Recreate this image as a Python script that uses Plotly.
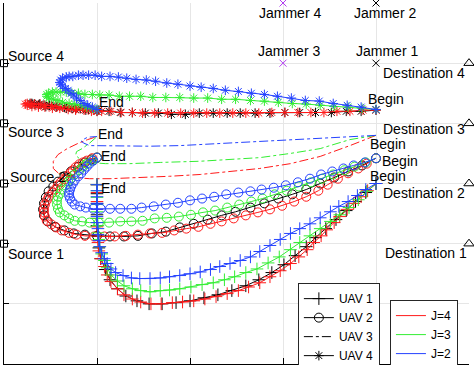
import plotly.graph_objects as go

# ---------------- data (x in [0,5], y in [0,6]) ----------------
source_y = [2, 3, 4, 5]
source_labels = ["Source 1", "Source 2", "Source 3", "Source 4"]
dest_y = [2, 3, 4, 5]
dest_labels = ["Destination 1", "Destination 2", "Destination 3", "Destination 4"]
jam_x = [4, 4, 3, 3]
jam_y = [5, 6, 5, 6]
jam_labels = ["Jammer 1", "Jammer 2", "Jammer 3", "Jammer 4"]

# UAV 4 (asterisk)
u4_blue_x = [4.00,3.84,3.69,3.54,3.39,3.24,3.09,2.94,2.80,2.66,2.52,2.38,2.25,2.12,2.00,1.87,1.75,1.63,1.53,1.42,1.32,1.23,1.14,1.05,0.98,0.91,0.85,0.80,0.74,0.70,0.67,0.63,0.61,0.60,0.61,0.63,0.66,0.69,0.72,0.75,0.78,0.82,0.86,0.90,0.95,1.00]
u4_blue_y = [4.23,4.27,4.30,4.33,4.37,4.38,4.42,4.45,4.48,4.50,4.53,4.55,4.58,4.60,4.62,4.65,4.67,4.70,4.72,4.73,4.75,4.77,4.78,4.78,4.80,4.80,4.80,4.80,4.78,4.78,4.77,4.75,4.72,4.68,4.65,4.62,4.58,4.55,4.50,4.47,4.42,4.38,4.33,4.30,4.27,4.23]
u4_green_x = [4.00,3.85,3.70,3.55,3.40,3.25,3.10,2.95,2.80,2.65,2.49,2.34,2.19,2.04,1.89,1.74,1.60,1.47,1.35,1.24,1.13,1.03,0.95,0.87,0.80,0.73,0.67,0.61,0.56,0.52,0.48,0.46,0.46,0.48,0.53,0.58,0.63,0.70,0.76,0.83,0.89,0.95,1.00]
u4_green_y = [4.23,4.25,4.27,4.28,4.30,4.32,4.33,4.35,4.37,4.38,4.40,4.40,4.42,4.42,4.43,4.43,4.43,4.45,4.45,4.45,4.47,4.47,4.48,4.48,4.50,4.50,4.52,4.52,4.52,4.52,4.50,4.48,4.45,4.42,4.40,4.38,4.35,4.33,4.32,4.30,4.27,4.25,4.23]
u4_red_x = [4.00,3.86,3.72,3.58,3.44,3.30,3.16,3.02,2.88,2.74,2.60,2.46,2.32,2.18,2.04,1.90,1.76,1.62,1.49,1.38,1.26,1.15,1.05,0.96,0.87,0.78,0.71,0.63,0.57,0.51,0.44,0.39,0.33,0.29,0.25,0.23,0.25,0.30,0.37,0.44,0.52,0.60,0.69,0.77,0.86,0.94,1.00]
u4_red_y = [4.22,4.22,4.20,4.20,4.18,4.18,4.18,4.18,4.18,4.17,4.17,4.17,4.17,4.17,4.17,4.17,4.17,4.17,4.17,4.18,4.18,4.20,4.20,4.22,4.23,4.25,4.27,4.27,4.28,4.30,4.30,4.32,4.32,4.33,4.33,4.32,4.30,4.28,4.27,4.27,4.25,4.25,4.23,4.22,4.22,4.20,4.20]
u4_black_x = [4.00,3.84,3.68,3.52,3.35,3.18,3.02,2.86,2.70,2.54,2.40,2.25,2.10,1.95,1.80,1.66,1.52,1.38,1.25,1.13,1.02,0.91,0.82,0.73,0.65,0.57,0.49,0.43,0.38,0.33,0.30,0.28,0.30,0.37,0.45,0.56,0.67,0.77,0.88,1.00]
u4_black_y = [4.22,4.20,4.20,4.18,4.18,4.18,4.18,4.17,4.17,4.17,4.17,4.17,4.17,4.15,4.15,4.17,4.17,4.18,4.18,4.20,4.22,4.23,4.25,4.25,4.27,4.28,4.30,4.30,4.32,4.32,4.33,4.33,4.32,4.30,4.28,4.27,4.25,4.23,4.22,4.20]

# UAV 3 (dash-dot, no markers)
u3_blue_x = [4.00,3.61,3.18,2.75,2.32,1.89,1.57,1.25,1.03,0.92,0.86,0.83,0.85,0.90,1.00]
u3_blue_y = [3.80,3.77,3.73,3.70,3.67,3.63,3.62,3.62,3.62,3.63,3.67,3.70,3.73,3.77,3.78]
u3_green_x = [4.00,3.72,3.40,3.08,2.75,2.43,2.11,1.68,1.35,1.09,0.92,0.82,0.77,0.78,0.84,0.92,1.00]
u3_green_y = [3.80,3.73,3.58,3.50,3.43,3.40,3.37,3.35,3.33,3.33,3.35,3.40,3.47,3.53,3.58,3.67,3.78]
u3_red_x = [4.00,3.72,3.40,3.08,2.75,2.43,2.11,1.78,1.46,1.14,0.92,0.74,0.60,0.53,0.53,0.58,0.68,0.80,0.90,1.00]
u3_red_y = [3.80,3.63,3.45,3.33,3.25,3.20,3.15,3.12,3.10,3.08,3.08,3.10,3.15,3.25,3.37,3.48,3.58,3.67,3.73,3.78]

# UAV 2 (circle)
u2_blue_x = [4.00,3.88,3.76,3.65,3.53,3.41,3.29,3.16,3.03,2.90,2.77,2.65,2.52,2.39,2.26,2.13,2.00,1.87,1.74,1.61,1.48,1.37,1.25,1.14,1.04,0.96,0.88,0.82,0.76,0.73,0.71,0.70,0.70,0.71,0.72,0.74,0.76,0.80,0.83,0.86,0.89,0.92,0.96,1.00]
u2_blue_y = [3.42,3.35,3.30,3.25,3.20,3.15,3.08,3.02,2.97,2.93,2.90,2.87,2.85,2.82,2.78,2.75,2.72,2.68,2.65,2.62,2.60,2.58,2.58,2.58,2.58,2.58,2.60,2.62,2.65,2.70,2.75,2.80,2.85,2.90,2.95,3.00,3.05,3.12,3.17,3.23,3.28,3.33,3.38,3.43]
u2_green_x = [4.00,3.89,3.77,3.66,3.54,3.42,3.30,3.17,3.04,2.91,2.78,2.66,2.53,2.40,2.27,2.14,2.01,1.88,1.75,1.62,1.49,1.37,1.25,1.13,1.02,0.92,0.84,0.76,0.70,0.65,0.60,0.58,0.57,0.57,0.58,0.60,0.62,0.66,0.69,0.72,0.76,0.81,0.85,0.89,0.95,1.00]
u2_green_y = [3.42,3.35,3.28,3.22,3.15,3.08,3.02,2.95,2.88,2.82,2.75,2.70,2.65,2.60,2.55,2.52,2.48,2.45,2.43,2.42,2.38,2.37,2.37,2.35,2.35,2.35,2.37,2.38,2.42,2.47,2.52,2.58,2.65,2.72,2.78,2.83,2.90,2.97,3.03,3.08,3.15,3.22,3.28,3.33,3.38,3.43]
u2_red_x = [4.00,3.90,3.81,3.70,3.59,3.48,3.38,3.25,3.12,2.99,2.86,2.73,2.60,2.47,2.34,2.22,2.09,1.96,1.83,1.70,1.57,1.44,1.31,1.19,1.08,0.97,0.87,0.78,0.70,0.62,0.56,0.51,0.46,0.44,0.43,0.43,0.44,0.46,0.48,0.52,0.55,0.58,0.61,0.65,0.68,0.71,0.74,0.77,0.81,0.85,0.89,0.95,1.00]
u2_red_y = [3.42,3.33,3.25,3.17,3.08,2.98,2.88,2.78,2.70,2.63,2.57,2.52,2.47,2.42,2.37,2.33,2.28,2.25,2.22,2.18,2.17,2.15,2.13,2.12,2.12,2.12,2.13,2.15,2.18,2.22,2.27,2.32,2.38,2.45,2.52,2.58,2.65,2.72,2.78,2.85,2.90,2.97,3.02,3.07,3.12,3.17,3.22,3.27,3.32,3.35,3.38,3.42,3.43]
u2_black_x = [4.00,3.85,3.70,3.55,3.40,3.25,3.10,2.95,2.80,2.65,2.49,2.34,2.19,2.04,1.89,1.74,1.59,1.44,1.29,1.14,1.00,0.87,0.75,0.65,0.55,0.47,0.43,0.42,0.43,0.45,0.48,0.53,0.58,0.65,0.72,0.80,0.87,0.94,1.00]
u2_black_y = [3.42,3.30,3.20,3.10,3.00,2.90,2.82,2.75,2.67,2.60,2.53,2.47,2.40,2.33,2.27,2.20,2.17,2.13,2.12,2.12,2.13,2.15,2.17,2.22,2.28,2.37,2.47,2.57,2.67,2.77,2.87,2.95,3.03,3.12,3.20,3.28,3.35,3.40,3.43]

# UAV 1 (plus)
u1_blue_x = [4.00,3.89,3.80,3.70,3.60,3.51,3.40,3.29,3.18,3.08,2.97,2.86,2.75,2.65,2.54,2.43,2.32,2.22,2.11,2.00,1.89,1.78,1.68,1.57,1.46,1.37,1.28,1.20,1.15,1.11,1.08,1.05,1.03,1.02,1.01,1.01,1.00,1.00,1.00,1.00,1.00,1.00,1.00]
u1_blue_y = [3.00,2.90,2.80,2.70,2.62,2.53,2.43,2.33,2.25,2.17,2.07,1.97,1.87,1.78,1.72,1.67,1.62,1.57,1.53,1.50,1.47,1.45,1.43,1.42,1.42,1.43,1.47,1.52,1.58,1.67,1.75,1.85,1.95,2.05,2.15,2.25,2.35,2.45,2.57,2.67,2.78,2.88,2.98]
u1_green_x = [4.00,3.90,3.81,3.71,3.61,3.51,3.40,3.29,3.18,3.08,2.96,2.84,2.72,2.60,2.48,2.37,2.25,2.13,2.01,1.89,1.78,1.68,1.57,1.47,1.38,1.29,1.22,1.15,1.11,1.08,1.05,1.03,1.02,1.01,1.01,1.00,1.00,1.00,1.00,1.00,1.00]
u1_green_y = [3.00,2.87,2.73,2.60,2.48,2.37,2.25,2.13,2.02,1.90,1.78,1.68,1.58,1.52,1.45,1.40,1.35,1.32,1.28,1.25,1.23,1.22,1.20,1.22,1.25,1.30,1.38,1.48,1.60,1.72,1.83,1.95,2.07,2.18,2.30,2.42,2.53,2.65,2.77,2.88,2.98]
u1_red_x = [4.00,3.91,3.84,3.76,3.69,3.61,3.55,3.47,3.41,3.33,3.26,3.17,3.08,2.97,2.86,2.75,2.63,2.52,2.40,2.28,2.16,2.04,1.92,1.81,1.69,1.58,1.47,1.38,1.29,1.22,1.15,1.11,1.08,1.04,1.02,1.01,1.01,1.00,1.00,1.00,1.00,1.00,1.00]
u1_red_y = [3.00,2.88,2.78,2.67,2.57,2.45,2.35,2.23,2.13,2.02,1.90,1.78,1.67,1.55,1.45,1.35,1.28,1.22,1.17,1.12,1.08,1.05,1.03,1.02,1.00,1.00,1.03,1.08,1.15,1.25,1.37,1.48,1.62,1.75,1.88,2.02,2.15,2.28,2.42,2.57,2.70,2.85,2.98]
u1_black_x = [4.00,3.89,3.78,3.68,3.57,3.46,3.35,3.25,3.13,3.01,2.88,2.74,2.60,2.45,2.30,2.15,2.00,1.85,1.70,1.56,1.43,1.31,1.22,1.14,1.09,1.04,1.02,1.01,1.00,1.00,1.00,1.00,1.00]
u1_black_y = [3.00,2.85,2.70,2.55,2.40,2.25,2.10,1.95,1.80,1.65,1.52,1.40,1.30,1.22,1.15,1.10,1.05,1.02,1.00,1.00,1.05,1.13,1.25,1.40,1.57,1.75,1.93,2.12,2.30,2.48,2.67,2.83,2.98]

begin_x = [3.90, 3.92, 4.05, 3.92]
begin_y = [4.40, 3.66, 3.38, 3.12]
end_x = [1.01, 1.00, 1.03, 1.03]
end_y = [4.35, 3.82, 3.45, 2.92]

RED = "#ff1a1a"
GREEN = "#33ee33"
BLUE = "#2442ff"
BLACK = "#000000"
MAG = "#b13ef0"
FONT = "Liberation Sans, Arial, sans-serif"

fig = go.Figure()

def traj(x, y, color, symbol=None, size=8, dash="solid", name=None, legend=False, rank=1000):
    mode = "lines+markers" if symbol else "lines"
    kw = dict(x=x, y=y, mode=mode, line=dict(color=color, width=1, dash=dash),
              showlegend=legend, name=name or "", legendrank=rank, hoverinfo="skip")
    if symbol:
        kw["marker"] = dict(symbol=symbol, size=size, color=color,
                            line=dict(color=color, width=1))
    fig.add_trace(go.Scatter(**kw))

# black reference trajectories (carry UAV legend entries)
traj(u4_black_x, u4_black_y, BLACK, "asterisk-open", 8, name="UAV 4", legend=True, rank=4)
traj(u2_black_x, u2_black_y, BLACK, "circle-open", 9, name="UAV 2", legend=True, rank=2)
traj(u1_black_x, u1_black_y, BLACK, "cross-thin-open", 9, name="UAV 1", legend=True, rank=1)
fig.add_trace(go.Scatter(x=[None], y=[None], mode="lines", name="UAV 3",
                         line=dict(color=BLACK, width=1, dash="dashdot"),
                         legendrank=3, showlegend=True))

series = {
    RED: (u4_red_x, u4_red_y, u3_red_x, u3_red_y, u2_red_x, u2_red_y, u1_red_x, u1_red_y),
    GREEN: (u4_green_x, u4_green_y, u3_green_x, u3_green_y, u2_green_x, u2_green_y, u1_green_x, u1_green_y),
    BLUE: (u4_blue_x, u4_blue_y, u3_blue_x, u3_blue_y, u2_blue_x, u2_blue_y, u1_blue_x, u1_blue_y),
}
for color, d in series.items():
    traj(d[0], d[1], color, "asterisk-open", 8)
    traj(d[2], d[3], color, None, dash="dashdot")
    traj(d[4], d[5], color, "circle-open", 9)
    traj(d[6], d[7], color, "cross-thin-open", 9)

# J legend entries
for nm, c, r in (("J=4", RED, 1), ("J=3", GREEN, 2), ("J=2", BLUE, 3)):
    fig.add_trace(go.Scatter(x=[None], y=[None], mode="lines", name=nm,
                             line=dict(color=c, width=1), legend="legend2",
                             legendrank=r, showlegend=True))

# sources, destinations, jammers
fig.add_trace(go.Scatter(x=[0]*4, y=source_y, mode="markers", cliponaxis=False, showlegend=False,
                         marker=dict(symbol="square-open", size=7, color=BLACK, line=dict(width=1, color=BLACK))))
fig.add_trace(go.Scatter(x=[5]*4, y=dest_y, mode="markers", cliponaxis=False, showlegend=False,
                         marker=dict(symbol="triangle-up-open", size=9, color=BLACK, line=dict(width=1, color=BLACK))))
fig.add_trace(go.Scatter(x=jam_x, y=jam_y, mode="markers", cliponaxis=False, showlegend=False,
                         marker=dict(symbol="x-thin-open", size=7,
                                     color=[BLACK, BLACK, MAG, MAG],
                                     line=dict(width=1, color=[BLACK, BLACK, MAG, MAG]))))

ann = []
src_pos = [(0.03, 1.83), (0.05, 3.10), (0.03, 3.85), (0.03, 5.12)]
for (x, y), t in zip(src_pos, source_labels):
    ann.append(dict(x=x, y=y, text=t, xanchor="left", yanchor="middle"))
dst_pos = [(4.99, 1.85), (4.97, 2.85), (4.97, 3.90), (4.97, 4.83)]
for (x, y), t in zip(dst_pos, dest_labels):
    ann.append(dict(x=x, y=y, text=t, xanchor="right", yanchor="middle"))
jam_pos = [(4.12, 5.20), (4.10, 5.83), (3.06, 5.20), (3.08, 5.83)]
for (x, y), t in zip(jam_pos, jam_labels):
    ann.append(dict(x=x, y=y, text=t, xanchor="center", yanchor="middle"))
for x, y in zip(begin_x, begin_y):
    ann.append(dict(x=x, y=y, text="Begin", xanchor="left", yanchor="middle"))
for x, y in zip(end_x, end_y):
    ann.append(dict(x=x, y=y, text="End", xanchor="left", yanchor="middle"))
for a in ann:
    a.update(xref="x", yref="y", showarrow=False, borderpad=0,
             font=dict(family=FONT, size=14, color="black"))

fig.update_layout(
    width=474, height=365,
    margin=dict(l=4, r=5, t=3, b=1, autoexpand=False),
    paper_bgcolor="white", plot_bgcolor="white",
    annotations=ann,
    legend=dict(x=0.632, y=0.224, xanchor="left", yanchor="top",
                bgcolor="white", bordercolor="#262626", borderwidth=1,
                font=dict(family=FONT, size=12, color="black"), tracegroupgap=0),
    legend2=dict(x=0.830, y=0.177, xanchor="left", yanchor="top",
                 bgcolor="white", bordercolor="#262626", borderwidth=1,
                 font=dict(family=FONT, size=12, color="black"), tracegroupgap=0),
)
fig.update_xaxes(range=[0, 5], dtick=1, tick0=0, showgrid=True, gridcolor="#e6e6e6", gridwidth=1,
                 zeroline=False, showticklabels=False, ticks="inside", ticklen=6,
                 tickcolor="black", showline=True, linecolor="black", linewidth=1)
fig.update_yaxes(range=[0, 6], dtick=1, tick0=0, showgrid=True, gridcolor="#e6e6e6", gridwidth=1,
                 zeroline=False, showticklabels=False, ticks="inside", ticklen=5,
                 tickcolor="black", showline=True, linecolor="black", linewidth=1)

fig.write_html("out.html", config={"displayModeBar": False},
               post_script="document.body.style.margin='0';document.body.style.overflow='hidden';")
